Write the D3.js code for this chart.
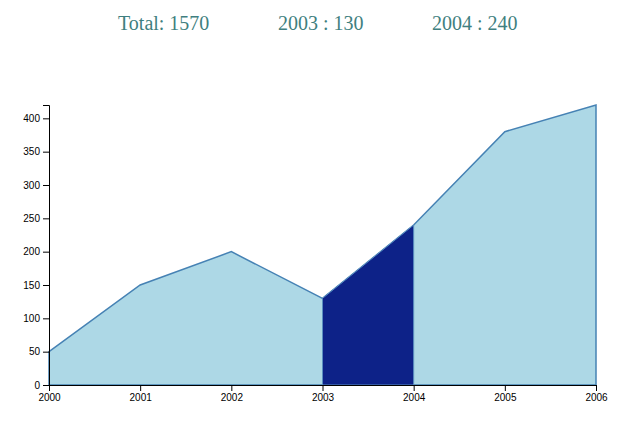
<!DOCTYPE html>
<html>
<head>
<meta charset="utf-8">
<script src="https://cdn.jsdelivr.net/npm/d3@7"></script>
<style>
  body { margin: 0; background: #fff; }
  .axis text { font-family: "Liberation Sans", Arial, sans-serif; font-size: 10px; }
</style>
</head>
<body>
<svg id="chart"></svg>
<script>
const years = [2000, 2001, 2002, 2003, 2004, 2005, 2006]
const values = [50, 150, 200, 130, 240, 380, 420]
const highlight = [2003, 2004]

const width = 629, height = 436
const margin = {top: 105, right: 33, bottom: 51, left: 49}

const svg = d3.select("#chart")
  .attr("width", width)
  .attr("height", height)

const data = years.map((y, i) => ({year: y, value: values[i]}))
const total = d3.sum(values)

// header
const header = [
  {x: 118, t: `Total: ${total}`},
  {x: 278, t: `${highlight[0]} : ${values[years.indexOf(highlight[0])]}`},
  {x: 432, t: `${highlight[1]} : ${values[years.indexOf(highlight[1])]}`}
]
svg.selectAll("text.head")
  .data(header)
  .enter()
  .append("text")
  .attr("class", "head")
  .attr("x", d => d.x)
  .attr("y", 30)
  .style("font-family", "'Liberation Serif', 'Times New Roman', serif")
  .style("font-size", "20px")
  .style("fill", "#3f7f80")
  .text(d => d.t)

const g = svg.append("g")
  .attr("transform", `translate(${margin.left}, ${margin.top})`)
const w = width - margin.left - margin.right
const h = height - margin.top - margin.bottom

const xScale = d3.scaleLinear()
  .domain(d3.extent(years))
  .range([0, w])
const yScale = d3.scaleLinear()
  .domain([0, d3.max(values)])
  .range([h, 0])

const area = d3.area()
  .x(d => xScale(d.year))
  .y0(h)
  .y1(d => yScale(d.value))

g.append("path")
  .datum(data)
  .attr("fill", "#add8e6")
  .attr("stroke", "steelblue")
  .attr("stroke-width", 1.5)
  .attr("d", area)

// highlighted segment
g.append("path")
  .datum(data.filter(d => d.year >= highlight[0] && d.year <= highlight[1]))
  .attr("fill", "#0d2288")
  .attr("stroke", "#5b8fc0")
  .attr("stroke-width", 1)
  .attr("d", area)

g.append("g")
  .attr("class", "axis")
  .attr("transform", `translate(0, ${h})`)
  .call(d3.axisBottom(xScale).ticks(6).tickFormat(d3.format("d")))

g.append("g")
  .attr("class", "axis")
  .call(d3.axisLeft(yScale).ticks(8))
</script>
</body>
</html>
